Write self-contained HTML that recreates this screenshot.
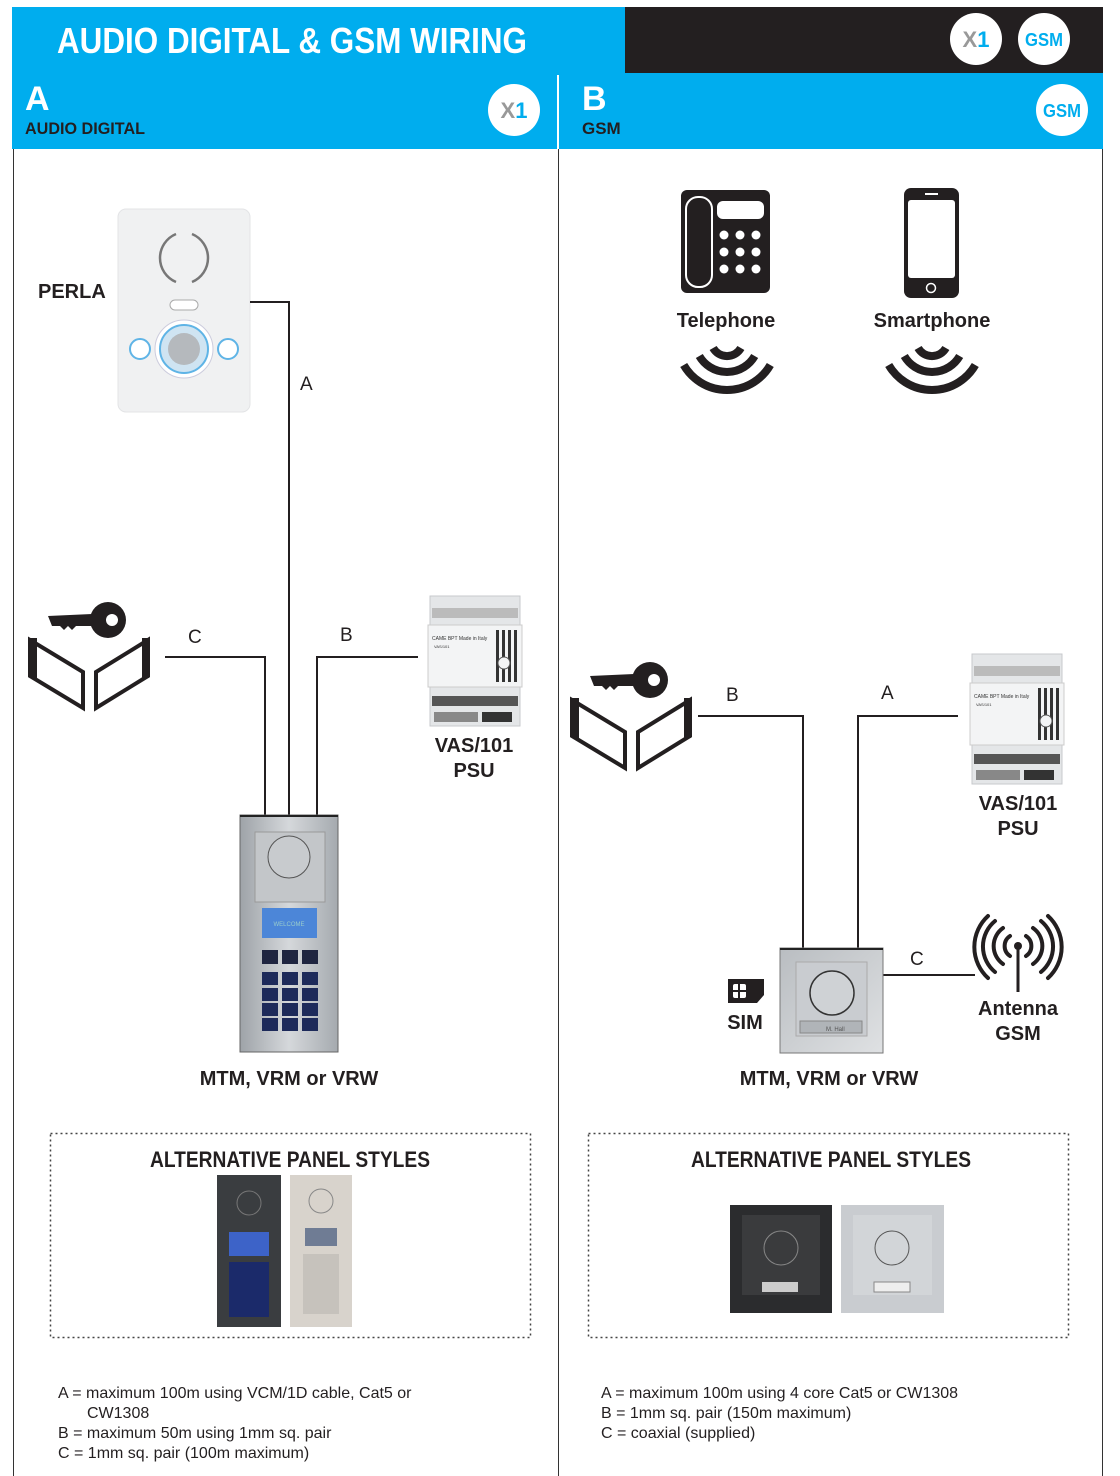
<!DOCTYPE html>
<html><head><meta charset="utf-8"><style>
html,body{margin:0;padding:0;background:#fff;}
svg{display:block;}
text{font-family:"Liberation Sans",sans-serif;}
</style></head><body>
<svg width="1120" height="1476" viewBox="0 0 1120 1476" xmlns="http://www.w3.org/2000/svg">
<defs>
<linearGradient id="alu" x1="0" x2="1" y1="0" y2="0"><stop offset="0" stop-color="#9ea3a8"/><stop offset="0.5" stop-color="#d5d8db"/><stop offset="1" stop-color="#a5aaaf"/></linearGradient>
<linearGradient id="alu2" x1="0" x2="1" y1="0" y2="1"><stop offset="0" stop-color="#b9bdc1"/><stop offset="1" stop-color="#dfe1e3"/></linearGradient>
</defs>
<!-- header -->
<rect x="12" y="7" width="614" height="67" fill="#00adee"/>
<rect x="625" y="7" width="478" height="67" fill="#231f20"/>
<rect x="12" y="73" width="1091" height="76" fill="#00adee"/>
<rect x="557" y="75" width="2" height="74" fill="#fff"/>
<text x="57" y="53" font-size="36" font-weight="bold" fill="#fff" textLength="470" lengthAdjust="spacingAndGlyphs">AUDIO DIGITAL &amp; GSM WIRING</text>
<circle cx="976" cy="39" r="26" fill="#fff"/><circle cx="1044" cy="39" r="26" fill="#fff"/>
<text x="976" y="47" font-size="22" font-weight="bold" fill="#999" text-anchor="middle">X<tspan fill="#00adee">1</tspan></text>
<text x="1044" y="46" font-size="18" font-weight="bold" fill="#00adee" text-anchor="middle" textLength="38" lengthAdjust="spacingAndGlyphs">GSM</text>
<text x="25" y="110" font-size="34" font-weight="bold" fill="#fff">A</text>
<text x="25" y="134" font-size="17" font-weight="bold" fill="#231f20" textLength="120" lengthAdjust="spacingAndGlyphs">AUDIO DIGITAL</text>
<circle cx="514" cy="110" r="26" fill="#fff"/>
<text x="514" y="118" font-size="22" font-weight="bold" fill="#999" text-anchor="middle">X<tspan fill="#00adee">1</tspan></text>
<text x="582" y="110" font-size="34" font-weight="bold" fill="#fff">B</text>
<text x="582" y="134" font-size="17" font-weight="bold" fill="#231f20">GSM</text>
<circle cx="1062" cy="110" r="26" fill="#fff"/>
<text x="1062" y="117" font-size="18" font-weight="bold" fill="#00adee" text-anchor="middle" textLength="38" lengthAdjust="spacingAndGlyphs">GSM</text>
<!-- borders -->
<line x1="13.5" y1="149" x2="13.5" y2="1476" stroke="#333" stroke-width="1"/>
<line x1="558.5" y1="149" x2="558.5" y2="1476" stroke="#333" stroke-width="1"/>
<line x1="1102.5" y1="149" x2="1102.5" y2="1476" stroke="#333" stroke-width="1"/>

<!-- LEFT: Perla -->
<rect x="118" y="209" width="132" height="203" rx="8" fill="#f0f1f2" stroke="#e3e4e6"/>
<path d="M176 234 A26 26 0 0 0 176 282" fill="none" stroke="#777" stroke-width="2.5"/>
<path d="M192 234 A26 26 0 0 1 192 282" fill="none" stroke="#777" stroke-width="2.5"/>
<rect x="170" y="300" width="28" height="10" rx="5" fill="#fff" stroke="#aaa"/>
<circle cx="184" cy="349" r="29" fill="#fff" stroke="#ccd"/>
<circle cx="184" cy="349" r="24" fill="#cfe4f2" stroke="#5fb4e6" stroke-width="2"/>
<circle cx="184" cy="349" r="16" fill="#b5b9bd"/>
<circle cx="140" cy="349" r="10" fill="#fff" stroke="#5fb4e6" stroke-width="2"/>
<circle cx="228" cy="349" r="10" fill="#fff" stroke="#5fb4e6" stroke-width="2"/>
<text x="38" y="298" font-size="20" font-weight="bold" fill="#231f20">PERLA</text>

<!-- left wires -->
<g fill="none" stroke="#231f20" stroke-width="2">
<polyline points="250,302 289,302 289,815"/>
<polyline points="165,657 265,657 265,815"/>
<polyline points="418,657 317,657 317,815"/>
</g>
<text x="300" y="390" font-size="19" fill="#231f20">A</text>
<text x="188" y="643" font-size="19" fill="#231f20">C</text>
<text x="340" y="641" font-size="19" fill="#231f20">B</text>

<!-- gate icon left -->
<g id="gate">
<circle cx="108" cy="620" r="18" fill="#231f20"/><circle cx="112" cy="620" r="6" fill="#fff"/>
<path d="M48 616 L92 614 L92 626 L76 626 L72 630 L68 626 L64 630 L60 626 L52 626 Z" fill="#231f20"/>
<path d="M30 640 L83 672 L83 708 L30 676 Z" fill="none" stroke="#231f20" stroke-width="4"/>
<rect x="30" y="638" width="7" height="40" fill="#231f20"/>
<path d="M148 640 L96 672 L96 708 L148 676 Z" fill="none" stroke="#231f20" stroke-width="4"/>
<rect x="142" y="638" width="7" height="40" fill="#231f20"/>
</g>

<!-- PSU left -->
<g id="psu">
<rect x="430" y="596" width="90" height="130" fill="#e4e6e8" stroke="#c7c9cc"/>
<rect x="432" y="608" width="86" height="10" fill="#bbb"/>
<rect x="428" y="625" width="94" height="62" fill="#f3f4f5" stroke="#ccc"/>
<text x="432" y="640" font-size="5" fill="#333">CAME BPT Made in Italy</text>
<text x="434" y="648" font-size="4" fill="#333">VAS/101</text>
<g fill="#333"><rect x="496" y="630" width="3" height="52"/><rect x="502" y="630" width="3" height="52"/><rect x="508" y="630" width="3" height="52"/><rect x="514" y="630" width="3" height="52"/></g>
<circle cx="504" cy="663" r="6" fill="#f3f4f5" stroke="#555"/>
<rect x="432" y="696" width="86" height="10" fill="#555"/>
<rect x="434" y="712" width="44" height="10" fill="#888"/>
<rect x="482" y="712" width="30" height="10" fill="#333"/>
</g>
<text x="474" y="752" font-size="20" font-weight="bold" fill="#231f20" text-anchor="middle">VAS/101</text>
<text x="474" y="777" font-size="20" font-weight="bold" fill="#231f20" text-anchor="middle">PSU</text>

<!-- Panel left -->
<rect x="240" y="815" width="98" height="237" fill="url(#alu)" stroke="#666"/>
<line x1="240" y1="816" x2="338" y2="816" stroke="#222" stroke-width="2"/>
<rect x="255" y="832" width="70" height="70" fill="#c3c6c9" stroke="#999"/>
<circle cx="289" cy="857" r="21" fill="#c8cbce" stroke="#555"/>
<rect x="262" y="908" width="55" height="30" fill="#4c86d8"/>
<text x="289" y="926" font-size="6" fill="#9cc" text-anchor="middle">WELCOME</text>
<rect x="262" y="950" width="16" height="14" fill="#1f2540"/><rect x="282" y="950" width="16" height="14" fill="#1f2540"/><rect x="302" y="950" width="16" height="14" fill="#1f2540"/>
<g fill="#1d2a5a">
<rect x="262" y="972" width="16" height="13"/><rect x="282" y="972" width="16" height="13"/><rect x="302" y="972" width="16" height="13"/>
<rect x="262" y="988" width="16" height="13"/><rect x="282" y="988" width="16" height="13"/><rect x="302" y="988" width="16" height="13"/>
<rect x="262" y="1003" width="16" height="13"/><rect x="282" y="1003" width="16" height="13"/><rect x="302" y="1003" width="16" height="13"/>
<rect x="262" y="1018" width="16" height="13"/><rect x="282" y="1018" width="16" height="13"/><rect x="302" y="1018" width="16" height="13"/>
</g>
<text x="289" y="1085" font-size="20" font-weight="bold" fill="#231f20" text-anchor="middle">MTM, VRM or VRW</text>

<!-- Alt box left -->
<rect x="50.5" y="1133.5" width="480" height="204" fill="none" stroke="#444" stroke-width="1.5" stroke-dasharray="2,3"/>
<text x="290" y="1167" font-size="22" font-weight="bold" fill="#231f20" text-anchor="middle" textLength="280" lengthAdjust="spacingAndGlyphs">ALTERNATIVE PANEL STYLES</text>
<rect x="217" y="1175" width="64" height="152" fill="#3a3d40"/>
<circle cx="249" cy="1203" r="12" fill="none" stroke="#777"/>
<rect x="229" y="1232" width="40" height="24" fill="#3d63c8"/>
<g fill="#1b2a6a"><rect x="229" y="1262" width="40" height="55"/></g>
<rect x="290" y="1175" width="62" height="152" fill="#d8d3cc"/>
<circle cx="321" cy="1201" r="12" fill="none" stroke="#888"/>
<rect x="305" y="1228" width="32" height="18" fill="#6f7c94"/>
<rect x="303" y="1254" width="36" height="60" fill="#c6c2bc"/>

<text font-size="16" fill="#231f20">
<tspan x="58" y="1398">A = maximum 100m using VCM/1D cable, Cat5 or</tspan>
<tspan x="87" y="1418">CW1308</tspan>
<tspan x="58" y="1438">B = maximum 50m using 1mm sq. pair</tspan>
<tspan x="58" y="1458">C = 1mm sq. pair (100m maximum)</tspan>
</text>

<!-- RIGHT: telephone -->
<rect x="681" y="190" width="89" height="103" rx="6" fill="#231f20"/>
<rect x="686" y="197" width="26" height="90" rx="12" fill="none" stroke="#fff" stroke-width="2"/>
<rect x="717" y="201" width="47" height="18" rx="6" fill="#fff"/>
<g fill="#fff">
<circle cx="724" cy="235" r="4.5"/><circle cx="740" cy="235" r="4.5"/><circle cx="756" cy="235" r="4.5"/>
<circle cx="724" cy="252" r="4.5"/><circle cx="740" cy="252" r="4.5"/><circle cx="756" cy="252" r="4.5"/>
<circle cx="724" cy="269" r="4.5"/><circle cx="740" cy="269" r="4.5"/><circle cx="756" cy="269" r="4.5"/>
</g>
<rect x="904" y="188" width="55" height="110" rx="7" fill="#231f20"/>
<rect x="908" y="200" width="47" height="78" rx="3" fill="#fff"/>
<rect x="925" y="193" width="13" height="2" fill="#fff"/>
<circle cx="931" cy="288" r="4.5" fill="none" stroke="#fff" stroke-width="1.5"/>
<text x="726" y="327" font-size="20" font-weight="bold" fill="#231f20" text-anchor="middle">Telephone</text>
<text x="932" y="327" font-size="20" font-weight="bold" fill="#231f20" text-anchor="middle">Smartphone</text>
<g fill="none" stroke="#231f20" stroke-width="8">
<path d="M713.1 348 A16 16 0 0 0 740.9 348"/>
<path d="M699.3 356 A32 32 0 0 0 754.7 356"/>
<path d="M683.7 365 A50 50 0 0 0 770.3 365"/>
<path d="M918.1 348 A16 16 0 0 0 945.9 348"/>
<path d="M904.3 356 A32 32 0 0 0 959.7 356"/>
<path d="M888.7 365 A50 50 0 0 0 975.3 365"/>
</g>

<!-- right wires -->
<g fill="none" stroke="#231f20" stroke-width="2">
<polyline points="698,716 803,716 803,948"/>
<polyline points="958,716 858,716 858,948"/>
<polyline points="883,975 975,975"/>
</g>
<text x="726" y="701" font-size="19" fill="#231f20">B</text>
<text x="881" y="699" font-size="19" fill="#231f20">A</text>
<text x="910" y="965" font-size="19" fill="#231f20">C</text>

<use href="#gate" transform="translate(542,60)"/>
<use href="#psu" transform="translate(542,58)"/>
<text x="1018" y="810" font-size="20" font-weight="bold" fill="#231f20" text-anchor="middle">VAS/101</text>
<text x="1018" y="835" font-size="20" font-weight="bold" fill="#231f20" text-anchor="middle">PSU</text>

<!-- right panel -->
<rect x="780" y="948" width="103" height="105" fill="url(#alu2)" stroke="#777"/>
<line x1="780" y1="949" x2="883" y2="949" stroke="#222" stroke-width="2"/>
<rect x="796" y="962" width="71" height="74" fill="#c9ccd0" stroke="#aaa"/>
<circle cx="832" cy="993" r="22" fill="#cfd2d5" stroke="#333" stroke-width="1.5"/>
<rect x="800" y="1021" width="62" height="12" fill="#b0b4b8" stroke="#888"/>
<text x="826" y="1031" font-size="6" fill="#555">M. Hall</text>

<!-- SIM -->
<path d="M728 979 L764 979 L764 995 L757 1003 L728 1003 Z" fill="#231f20"/>
<rect x="733" y="984" width="13" height="14" rx="2" fill="#fff"/>
<rect x="738" y="984" width="2" height="14" fill="#231f20"/><rect x="733" y="990" width="13" height="2" fill="#231f20"/>
<text x="745" y="1029" font-size="20" font-weight="bold" fill="#231f20" text-anchor="middle">SIM</text>

<!-- antenna -->
<g fill="none" stroke="#231f20" stroke-width="4" stroke-linecap="round">
<path d="M1010 936 A12 12 0 0 0 1010 956"/><path d="M1026 936 A12 12 0 0 1 1026 956"/>
<path d="M1003 928 A22 22 0 0 0 1003 964"/><path d="M1033 928 A22 22 0 0 1 1033 964"/>
<path d="M995 921 A33 33 0 0 0 995 972"/><path d="M1041 921 A33 33 0 0 1 1041 972"/>
<path d="M988 916 A42 42 0 0 0 988 978"/><path d="M1048 916 A42 42 0 0 1 1048 978"/>
</g>
<circle cx="1018" cy="946" r="4" fill="#231f20"/>
<rect x="1016.5" y="946" width="3" height="46" fill="#231f20"/>
<text x="1018" y="1015" font-size="20" font-weight="bold" fill="#231f20" text-anchor="middle">Antenna</text>
<text x="1018" y="1040" font-size="20" font-weight="bold" fill="#231f20" text-anchor="middle">GSM</text>
<text x="829" y="1085" font-size="20" font-weight="bold" fill="#231f20" text-anchor="middle">MTM, VRM or VRW</text>

<!-- alt box right -->
<rect x="588.5" y="1133.5" width="480" height="204" fill="none" stroke="#444" stroke-width="1.5" stroke-dasharray="2,3"/>
<text x="831" y="1167" font-size="22" font-weight="bold" fill="#231f20" text-anchor="middle" textLength="280" lengthAdjust="spacingAndGlyphs">ALTERNATIVE PANEL STYLES</text>
<rect x="730" y="1205" width="102" height="108" fill="#2b2c2e"/>
<rect x="742" y="1215" width="78" height="80" fill="#3a3b3d"/>
<circle cx="781" cy="1248" r="17" fill="none" stroke="#888"/>
<rect x="762" y="1282" width="36" height="10" fill="#ccc"/>
<rect x="841" y="1205" width="103" height="108" fill="#c9ccd0"/>
<rect x="853" y="1215" width="79" height="80" fill="#d2d5d8"/>
<circle cx="892" cy="1248" r="17" fill="none" stroke="#555"/>
<rect x="874" y="1282" width="36" height="10" fill="#eee" stroke="#888"/>

<text font-size="16" fill="#231f20">
<tspan x="601" y="1398">A = maximum 100m using 4 core Cat5 or CW1308</tspan>
<tspan x="601" y="1418">B = 1mm sq. pair (150m maximum)</tspan>
<tspan x="601" y="1438">C = coaxial (supplied)</tspan>
</text>
</svg>
</body></html>
